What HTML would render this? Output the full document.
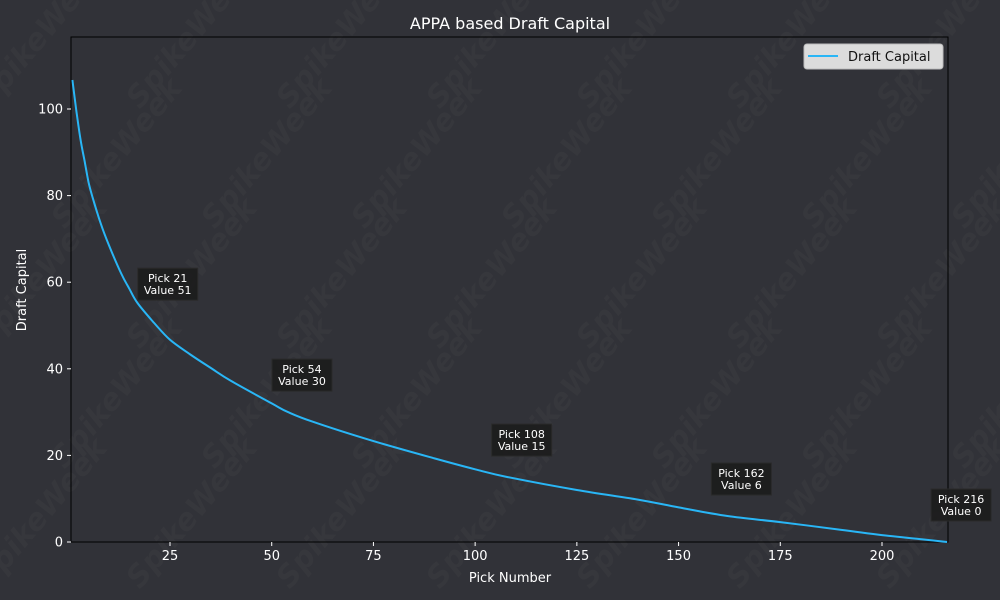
<!DOCTYPE html>
<html><head><meta charset="utf-8"><style>
html,body{margin:0;background:#313238;overflow:hidden;width:1000px;height:600px;}
svg{display:block;overflow:hidden;font-family:"DejaVu Sans","Liberation Sans",sans-serif;}
</style></head><body>
<svg id="c" width="1000" height="600" viewBox="0 0 1000 600">
<defs><clipPath id="clipAll"><rect width="1000" height="600"/></clipPath></defs>
<rect width="1000" height="600" fill="#313238"/>
<g id="wm" clip-path="url(#clipAll)"></g>
<text x="510" y="29" fill="#fff" font-size="16" text-anchor="middle">APPA based Draft Capital</text>
<g id="axes"></g>
<text x="510" y="582" fill="#fff" font-size="13" text-anchor="middle">Pick Number</text>
<text transform="translate(26,290) rotate(-90)" fill="#fff" font-size="13" text-anchor="middle">Draft Capital</text>
<g>
<rect x="804" y="44" width="139" height="25" rx="3" fill="#dcdcdc" stroke="#bbb"/>
<line x1="808" y1="56" x2="838" y2="56" stroke="#29b6f6" stroke-width="2"/>
<text x="848" y="61" font-size="13" fill="#111">Draft Capital</text>
</g>
</svg>
<script>
const picks=[1,2,3,4,5,6,8,10,13,15,17,21,25,30,35,40,50,54,60,75,90,100,108,125,140,150,162,175,190,200,210,216];
const values=[106.7,99.5,93,88,83,79.5,73.5,68.5,62,58.5,55.2,50.7,46.7,43.3,40.2,37.2,32,30,27.8,23.3,19.3,16.8,15,12,9.8,8,6,4.6,2.8,1.6,0.6,0];
const annPicks=[21,54,108,162,216];
const annValues=[51,30,15,6,0];
const xTicks=[25,50,75,100,125,150,175,200];
const yTicks=[0,20,40,60,80,100];
const L=71,R=948,T=37,B=542;
const X=p=>170+(p-25)*(712/175);
const Y=v=>B-v*4.33;
const ns='http://www.w3.org/2000/svg';
const ax=document.getElementById('axes');
function mk(t,a,p){const e=document.createElementNS(ns,t);for(const k in a)e.setAttribute(k,a[k]);(p||ax).appendChild(e);return e;}
const wm=document.getElementById('wm');
for(let r=0;r<5;r++)for(let c=0;c<7;c++){
 const t=mk('text',{x:0,y:0,transform:`translate(${c*150+(r%2)*75-10},${r*120+110}) rotate(-50)`,fill:'#36373c','font-size':30,'font-weight':'bold','font-style':'italic'},wm);
 t.textContent='SpikeWeek';
 
 
}
const fr=mk('rect',{x:L,y:T,width:R-L,height:B-T,fill:'none',stroke:'#000','stroke-width':1});


xTicks.forEach(v=>{
 mk('line',{x1:X(v),x2:X(v),y1:B,y2:B+4,stroke:'#fff'});
 const t=mk('text',{x:X(v),y:B+18,fill:'#fff','font-size':13,'text-anchor':'middle'});t.textContent=v;
 
 
});
yTicks.forEach(v=>{
 mk('line',{x1:L-4,x2:L,y1:Y(v),y2:Y(v),stroke:'#fff'});
 const t=mk('text',{x:L-8,y:Y(v)+4.5,fill:'#fff','font-size':13,'text-anchor':'end'});t.textContent=v;
 
 
});
const pts=picks.map((p,i)=>[X(p),Y(values[i])]);
let d='M'+pts[0][0].toFixed(1)+','+pts[0][1].toFixed(1);
for(let i=0;i<pts.length-1;i++){
 const p0=pts[Math.max(0,i-1)],p1=pts[i],p2=pts[i+1],p3=pts[Math.min(pts.length-1,i+2)];
 const c1=[p1[0]+(p2[0]-p0[0])/6,p1[1]+(p2[1]-p0[1])/6];
 const c2=[p2[0]-(p3[0]-p1[0])/6,p2[1]-(p3[1]-p1[1])/6];
 d+='C'+c1.map(v=>v.toFixed(1)).join(',')+' '+c2.map(v=>v.toFixed(1)).join(',')+' '+p2.map(v=>v.toFixed(1)).join(',');
}
const line=mk('path',{d:d,fill:'none',stroke:'#29b6f6','stroke-width':2,'stroke-linejoin':'round'});


annPicks.forEach((p,i)=>{
 const cx=X(p)+14,cy=Y(annValues[i])-37;
 const g=mk('g',{});
 
 
 mk('rect',{x:cx-30,y:cy-16,width:60,height:32,fill:'#1c1c1c',stroke:'#2a2a2a','fill-opacity':0.9},g);
 const t1=mk('text',{x:cx,y:cy-2,fill:'#fff','font-size':11,'text-anchor':'middle'},g);t1.textContent='Pick '+p;
 const t2=mk('text',{x:cx,y:cy+10,fill:'#fff','font-size':11,'text-anchor':'middle'},g);t2.textContent='Value '+annValues[i];
});
</script>
</body></html>
